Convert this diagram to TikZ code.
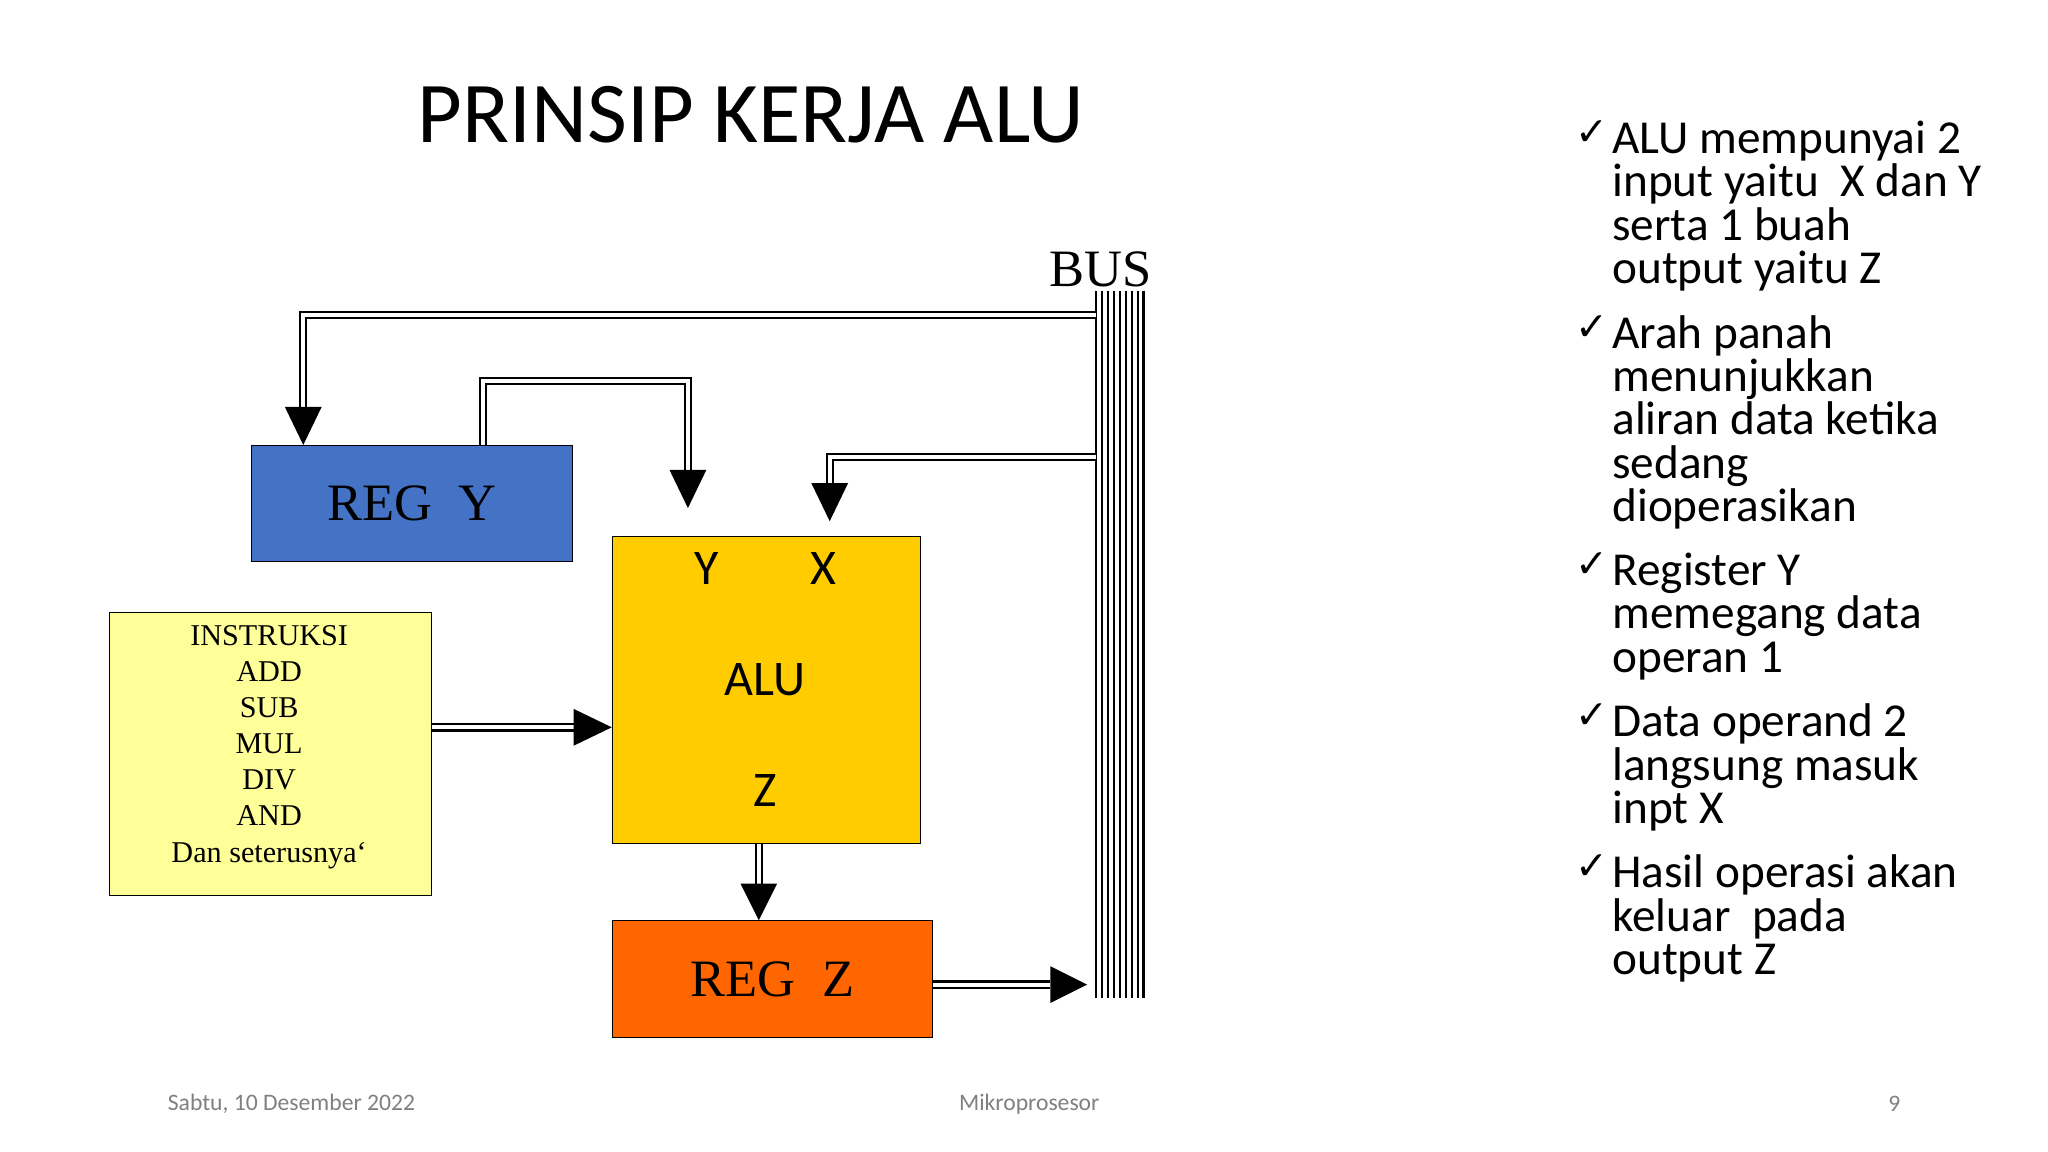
\documentclass[tikz,border=0pt]{standalone}
\usepackage{fontspec}
\setmainfont{Liberation Serif}
\newfontfamily\carl{Carlito}
\newfontfamily\dejavu{DejaVu Sans}
\usetikzlibrary{calc}
\begin{document}
\begin{tikzpicture}[x=1pt,y=-1pt,
  dbl/.style={draw=black,double=white,double distance=3.2pt,line width=1.6pt},
  tip/.style={fill=black},
  boxst/.style={draw=black,line width=0.8pt,inner sep=0pt,anchor=north west},
  side/.style={font=\carl\fontsize{36}{33}\selectfont,align=left,anchor=north west,inner sep=0pt}]
\useasboundingbox (0,0) rectangle (1560,877.5);
\fill[white] (0,0) rectangle (1560,877.5);
\node (title) at (572,87) {\carl\fontsize{66}{70}\selectfont PRINSIP KERJA ALU};
\node (bustxt) at (838,205) {\fontsize{40}{40}\selectfont BUS};
% bus
\foreach \i in {0,...,8} \draw[line width=1.6pt] ({835+4.5*\i},222) -- ({835+4.5*\i},760);
\coordinate (bus) at (835,240);
% boxes
\node[boxst,fill={rgb,255:red,68;green,114;blue,196},minimum width=245,minimum height=88] (regy) at (191,339) {};
\node at (regy.center) {\fontsize{40}{40}\selectfont REG\ \ Y};
\node[boxst,fill={rgb,255:red,255;green,204;blue,0},minimum width=235,minimum height=234] (alu) at (466,408) {};
\node at (538,433) {\carl\fontsize{38}{38}\selectfont Y};
\node at (627,433) {\carl\fontsize{38}{38}\selectfont X};
\node at (583,518) {\carl\fontsize{38}{38}\selectfont ALU};
\node at (583,602) {\carl\fontsize{38}{38}\selectfont Z};
\node[boxst,fill={rgb,255:red,255;green,255;blue,153},minimum width=245,minimum height=216] (ins) at (83,466) {};
\node[align=center,font=\fontsize{23}{27.5}\selectfont] at (205,569) {INSTRUKSI\\ADD\\SUB\\MUL\\DIV\\AND\\Dan seterusnya`};
\node[boxst,fill={rgb,255:red,255;green,102;blue,0},minimum width=244,minimum height=89] (regz) at (466,701) {};
\node at (regz.center) {\fontsize{40}{40}\selectfont REG\ \ Z};
% connectors
\draw[dbl] (bus) -- (231,240) -- (231,310);
\fill[tip] (217,310) -- (245,310) -- (231,339) -- cycle;
\draw[dbl] (368,339) -- (368,290) -- (524,290) -- (524,358);
\fill[tip] (510,358) -- (538,358) -- (524,387) -- cycle;
\draw[dbl] (835,348) -- (632,348) -- (632,368);
\fill[tip] (618,368) -- (646,368) -- (632,397) -- cycle;
\draw[dbl] (ins.east |- 0,554) -- (437,554);
\fill[tip] (437,540) -- (437,568) -- (466,554) -- cycle;
\draw[dbl] (alu.south -| 578,0) -- (578,673);
\fill[tip] (564,673) -- (592,673) -- (578,701) -- cycle;
\draw[dbl] (regz.east |- 0,750) -- (800,750);
\fill[tip] (800,736) -- (800,764) -- (828,750) -- cycle;
% side text
\foreach \y/\t in {92/{ALU mempunyai 2\\input yaitu \ X dan Y\\serta 1 buah\\output yaitu Z},
  240/{Arah panah\\menunjukkan\\aliran data ketika\\sedang\\dioperasikan},
  421/{Register Y\\memegang data\\operan 1},
  536/{Data operand 2\\langsung masuk\\inpt X},
  651/{Hasil operasi akan\\keluar \ pada\\output Z}}
{ \node[side] at (1228,\y) {\t};
  \node[anchor=north west,inner sep=0pt] at (1200,\y) {\dejavu\fontsize{30}{30}\selectfont ✓}; }
% footer
\node[text=gray,font=\carl\fontsize{18}{18}\selectfont] at (222,841) {Sabtu, 10 Desember 2022};
\node[text=gray,font=\carl\fontsize{18}{18}\selectfont] at (784,841) {Mikroprosesor};
\node[text=gray,font=\carl\fontsize{18}{18}\selectfont] at (1443,841) {9};
\end{tikzpicture}
\end{document}
